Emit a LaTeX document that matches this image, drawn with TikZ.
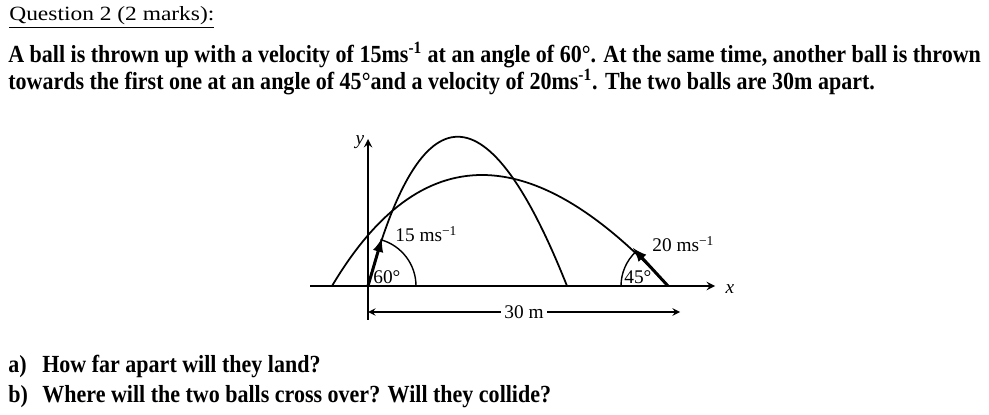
\documentclass[tikz,border=0pt]{standalone}
\usepackage{fontspec}
\setmainfont{Liberation Serif}
\newfontfamily\bodyfont{Liberation Serif}[FakeStretch=0.895]
\newfontfamily\headfont{Liberation Serif}[FakeStretch=1.16]

\begin{document}
\begin{tikzpicture}[x=0.02cm,y=0.02cm]
\tikzset{
txt/.style={anchor=base west,inner sep=0pt,font=\bodyfont\bfseries\fontsize{14}{16}\selectfont},
lbl/.style={anchor=base west,inner sep=0pt,font=\fontsize{11}{13}\selectfont},
curve/.style={draw,line width=1pt},
vel/.style={draw,line width=1.7pt,-latex}
}
\useasboundingbox (0,0) rectangle (989,415);

\node[txt,font=\headfont\fontsize{11.5}{13}\selectfont] (title) at (9,394) {\underline{Question 2 (2 marks):}};
\node[txt] (l1) at (8,352) {A ball is thrown up with a velocity of 15ms\textsuperscript{-1} at an angle of 60°. At the same time, another ball is thrown};
\node[txt] (l2) at (8,325) {towards the first one at an angle of 45°and a velocity of 20ms\textsuperscript{-1}. The two balls are 30m apart.};
\node[txt] (qa) at (8,42) {a)};
\node[txt] (qat) at (42,42) {How far apart will they land?};
\node[txt] (qb) at (8,12) {b)};
\node[txt] (qbt) at (42,12) {Where will the two balls cross over? Will they collide?};

\coordinate (O) at (368,129);
\coordinate (R) at (668,129);
\coordinate (L) at (332,129);
\coordinate (E) at (567,129);
\coordinate (xs) at (310,129);
\coordinate (xe) at (715,129);
\coordinate (ys) at (368,95);
\coordinate (ye) at (368,276);
\coordinate (v1) at (382,177);
\coordinate (v2) at (633,167);
\coordinate (d1) at (368,103);
\coordinate (d2) at (680,103);

\path[draw,line width=1.1pt,-stealth] (xs) -- (xe);
\path[draw,line width=1.1pt,-stealth] (ys) -- (ye);
\node[lbl,anchor=center] (xl) at (730,126) {\textit{x}};
\node[lbl,anchor=center] (yl) at (360,273) {\textit{y}};

\path[curve] (L) .. controls (420,277) and (532,277) .. (R);
\path[curve] (O) .. controls (421,328) and (488,328) .. (E);

\path[vel] (O) -- (v1);
\path[vel] (R) -- (v2);

\draw[line width=0.8pt] (O) ++(48,0) arc[start angle=0,end angle=75,radius=0.96cm];
\draw[line width=0.8pt] (R) ++(-47,0) arc[start angle=180,end angle=133,radius=0.94cm];
\node[lbl] (a1) at (373,131) {60°};
\node[lbl] (a2) at (624,131) {45°};
\node[lbl] (s1) at (395,173) {15 ms\textsuperscript{−1}};
\node[lbl] (s2) at (652,163) {20 ms\textsuperscript{−1}};

\path[draw,line width=0.9pt,stealth-stealth] (d1) -- (d2);
\node[lbl,anchor=center,fill=white,inner sep=2pt] (dl) at (524,103) {30 m};
\end{tikzpicture}
\end{document}
